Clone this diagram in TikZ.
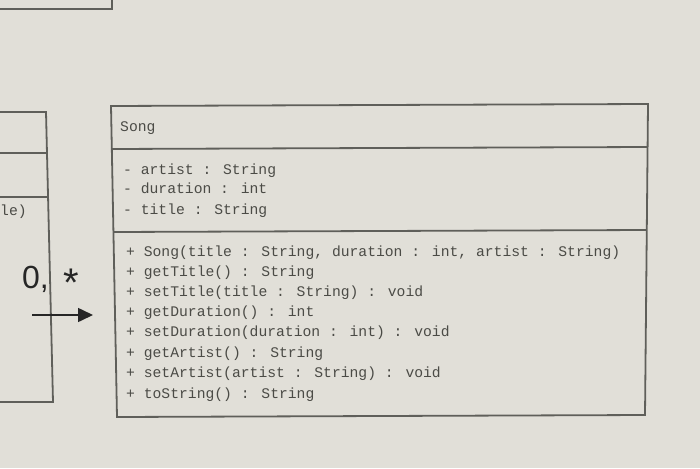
\documentclass[tikz,border=0pt]{standalone}
\usepackage{fontspec}
\setmainfont{Liberation Sans}
\newfontfamily\umlmono{Liberation Mono}
\usetikzlibrary{arrows.meta}
\definecolor{paper}{RGB}{225,223,216}
\definecolor{ink}{RGB}{95,95,90}
\definecolor{txt}{RGB}{75,75,70}
\tikzset{
  umlline/.style={draw=ink, line width=1.8pt},
  umltext/.style={anchor=base west, inner sep=0pt, font=\umlmono\fontsize{14.7}{18}\selectfont, text=txt},
  multtext/.style={anchor=base west, inner sep=0pt, font=\fontsize{32}{36}\selectfont, text=black!85},
}
\begin{document}
\begin{tikzpicture}[x=1pt,y=-1pt]
\fill[paper] (0,0) rectangle (700,468);
\useasboundingbox (0,0) rectangle (700,468);
% top-left box fragment
\draw[umlline] (0,9) -- (112,9) -- (112,0);
% left box fragment
\draw[umlline] (0,112) -- (46,112) -- (53,402) -- (0,402);
\draw[umlline] (0,153) -- (47,153);
\draw[umlline] (0,197) -- (48,197);
\node[umltext] (frag) at (0,215) {le)};
% Song box
\draw[umlline] (111,106) -- (648,104) -- (645,415) -- (117,417) -- cycle;
\draw[umlline] (112,149) -- (647,147);
\draw[umlline] (114,232) -- (646,230);
\node[umltext] (name) at (120,131) {Song};
\node[umltext] (a1) at (123,174) {- artist : String};
\node[umltext] (a2) at (123,193) {- duration : int};
\node[umltext] (a3) at (123,214) {- title : String};
\node[umltext] (m1) at (126,256) {+ Song(title : String, duration : int, artist : String)};
\node[umltext] (m2) at (126,276) {+ getTitle() : String};
\node[umltext] (m3) at (126,296) {+ setTitle(title : String) : void};
\node[umltext] (m4) at (126,316) {+ getDuration() : int};
\node[umltext] (m5) at (126,336) {+ setDuration(duration : int) : void};
\node[umltext] (m6) at (126,357) {+ getArtist() : String};
\node[umltext] (m7) at (126,377) {+ setArtist(artist : String) : void};
\node[umltext] (m8) at (126,398) {+ toString() : String};
% multiplicity and arrow
\node[multtext] (mult) at (22,288) {0,};
\node[multtext, font=\fontsize{40}{44}\selectfont] (star) at (63,296) {*};
\coordinate (as) at (32,315);
\coordinate (ae) at (93,315);
\draw[draw=black!85, line width=1.6pt, -{Triangle[length=15pt,width=14pt]}] (as) -- (ae);
\end{tikzpicture}
\end{document}
